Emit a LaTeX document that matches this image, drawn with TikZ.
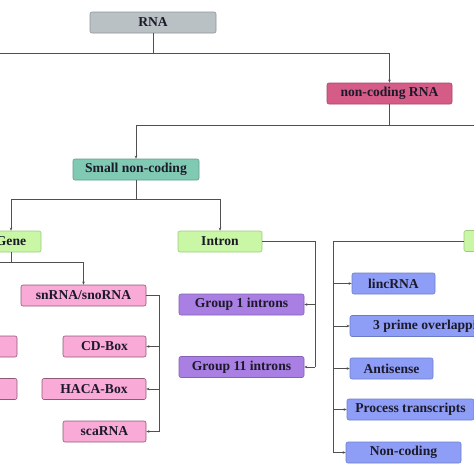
\documentclass[tikz,border=0pt]{standalone}
\usepackage{fontspec}
\newfontfamily\boxfont{Liberation Serif}
\usetikzlibrary{arrows.meta}
\definecolor{cgray}{HTML}{BAC1C4}
\definecolor{cgrayd}{HTML}{8E9597}
\definecolor{cnc}{HTML}{D65C88}
\definecolor{cncd}{HTML}{A8456A}
\definecolor{cteal}{HTML}{80CAB3}
\definecolor{ctealD}{HTML}{5E9C89}
\definecolor{cgreen}{HTML}{C9F7A6}
\definecolor{cgreenD}{HTML}{9CCB7E}
\definecolor{cpink}{HTML}{F9AAD6}
\definecolor{cpinkD}{HTML}{8E5A77}
\definecolor{cpurp}{HTML}{AA7FE3}
\definecolor{cpurpD}{HTML}{8461B5}
\definecolor{cblue}{HTML}{8E9EF6}
\definecolor{cblueD}{HTML}{6E7CC8}
\definecolor{ctext}{HTML}{1C1A2A}
\definecolor{cline}{HTML}{505050}
\tikzset{
  box/.style={rectangle, rounded corners=2pt, minimum height=21pt, inner sep=0pt,
    line width=0.6pt, text=ctext, font=\boxfont\fontsize{13.6}{15}\selectfont\bfseries},
  gbox/.style={box, fill=cgray, draw=cgrayd},
  ncbox/.style={box, fill=cnc, draw=cncd},
  tbox/.style={box, fill=cteal, draw=ctealD},
  grbox/.style={box, fill=cgreen, draw=cgreenD},
  pbox/.style={box, fill=cpink, draw=cpinkD},
  ubox/.style={box, fill=cpurp, draw=cpurpD},
  bbox/.style={box, fill=cblue, draw=cblueD},
  conn/.style={draw=cline, line width=0.8pt},
  arr/.style={conn, -{Stealth[length=3pt,width=2.6pt]}}
}
\begin{document}
\begin{tikzpicture}[x=1pt,y=-1pt]
\useasboundingbox (0,0) rectangle (474,474);
\begin{scope}
\clip (0,0) rectangle (474,474);
% nodes
\node[gbox, minimum width=126pt] (rna) at (153,22.5) {RNA};
\node[ncbox, minimum width=125pt] (ncrna) at (389.5,93.5) {non-coding RNA};
\node[tbox, minimum width=126pt] (small) at (136,169.5) {Small non-coding};
\node[grbox, minimum width=60pt] (gene) at (11,241.5) {Gene};
\node[grbox, minimum width=84pt] (intron) at (220,241.5) {Intron};
\node[grbox, minimum width=84pt] (lnc) at (506,241) {};
\node[pbox, minimum width=125pt] (sn) at (83.5,295.5) {snRNA/snoRNA};
\node[pbox, minimum width=83pt] (cd) at (104.5,346.5) {CD-Box};
\node[pbox, minimum width=104pt] (haca) at (94,389) {HACA-Box};
\node[pbox, minimum width=83pt] (sca) at (104.5,431.5) {scaRNA};
\node[pbox, minimum width=84pt] (left1) at (-25,346.5) {};
\node[pbox, minimum width=84pt] (left2) at (-25,389) {};
\node[ubox, minimum width=125pt] (g1) at (241.5,304.5) {Group 1 introns};
\node[ubox, minimum width=125pt] (g11) at (241.5,367) {Group 11 introns};
\node[bbox, minimum width=83pt] (linc) at (393.5,283.5) {lincRNA};
\node[bbox, minimum width=164pt] (three) at (432,326) {3 prime overlapping};
\node[bbox, minimum width=83pt] (anti) at (391.5,368.5) {Antisense};
\node[bbox, minimum width=127pt] (proc) at (410.5,409.5) {Process transcripts};
\node[bbox, minimum width=115pt] (nonc) at (403.5,452.5) {Non-coding};
% junction coordinates
\coordinate (j1) at (0,53);
\coordinate (j2) at (474,125);
\coordinate (j3) at (11,199);
\coordinate (j4) at (0,262);
\coordinate (j5) at (159,295.5);
\coordinate (j6) at (315,241.5);
\coordinate (j7) at (333,241);
% connectors
\draw[conn] (rna.south) -- (rna.south |- j1);
\draw[arr] (j1) -| (ncrna.north);
\draw[conn] (ncrna.south) -- (ncrna.south |- j2);
\draw[arr] (j2) -| (small.north);
\draw[conn] (small.south) -- (small.south |- j3);
\draw[arr] (j3) -| (intron.north);
\draw[arr] (j3) -- (gene.north);
\draw[conn] (gene.south) -- (gene.south |- j4);
\draw[arr] (j4) -| (sn.north);
\draw[conn] (sn.east) -- (j5) -- (j5 |- sca.east);
\draw[arr] (j5 |- cd.east) -- (cd.east);
\draw[arr] (j5 |- haca.east) -- (haca.east);
\draw[arr] (j5 |- sca.east) -- (sca.east);
\draw[conn] (intron.east) -- (j6) -- (j6 |- g11.east);
\draw[arr] (j6 |- g1.east) -- (g1.east);
\draw[arr] (j6 |- g11.east) -- (g11.east);
\draw[conn] (lnc.west) -- (j7) -- (j7 |- nonc.west);
\draw[arr] (j7 |- linc.west) -- (linc.west);
\draw[arr] (j7 |- three.west) -- (three.west);
\draw[arr] (j7 |- anti.west) -- (anti.west);
\draw[arr] (j7 |- proc.west) -- (proc.west);
\draw[arr] (j7 |- nonc.west) -- (nonc.west);
\end{scope}
\end{tikzpicture}
\end{document}
